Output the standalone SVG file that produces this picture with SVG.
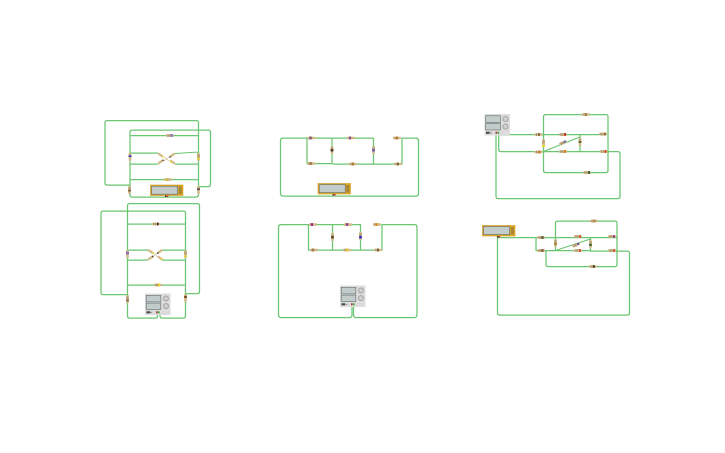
<svg xmlns="http://www.w3.org/2000/svg" width="725" height="453" viewBox="0 0 725 453">
<style>
.w{fill:none;stroke:#6bc672;stroke-width:1.25;stroke-linejoin:round}
.b{fill:#d4bb8c}
.bd{fill:#9c8058}
.lcdg{fill:#e2a81e;stroke:#d49a22;stroke-width:.6}
.scr{fill:#c3cccb;stroke:#5d6b6b;stroke-width:.6}
.pan{fill:#dcdcdc}
.kn{fill:#cfcfcf;stroke:#8f8f8f;stroke-width:.7}
</style>
<defs>
<g id="res"><rect class="b" x="-4" y="-1.3" width="8" height="2.600" rx=".8"/><rect class="bd" x="-2.400" y="-1.300" width=".8" height="2.600"/><rect class="bd" x="-.6" y="-1.300" width=".8" height="2.600"/></g>
<g id="dres"><rect class="b" x="-3" y="-1.100" width="6" height="2.200" rx=".8"/></g>
<g id="lcd"><rect class="lcdg" x="0" y="0" width="32.500" height="10.500"/><rect class="scr" x="1.200" y="1.200" width="26" height="8"/><rect x="28.200" y="1.500" width="3.200" height="7.500" fill="#a8873a"/><rect x="14.500" y="10.600" width="1.600" height="1.400" fill="#222"/><rect x="16.200" y="10.600" width="1.600" height="1.400" fill="#d22"/></g>
<g id="psu"><rect class="pan" x="0" y="0" width="25.500" height="21.500"/><rect class="scr" x="1.200" y="1.800" width="14.600" height="6.600"/><rect class="scr" x="1.200" y="9.600" width="14.600" height="6.400"/><circle class="kn" cx="21" cy="5" r="2.600"/><circle class="kn" cx="21" cy="12.600" r="2.600"/><rect x="1.500" y="17.800" width="3.600" height="2" fill="#444"/><rect x="5.500" y="18.400" width="1.600" height="1" fill="#777"/><rect x="11" y="17.800" width="1.600" height="2" fill="#a33"/><rect x="13" y="17.800" width="1.600" height="2" fill="#3a3"/></g>
</defs>
<rect width="725" height="453" fill="#fff"/>
<g id="connectors">
<path class="w" d="M130 185H107Q105 185 105 183V122.500Q105 120.500 107 120.500H196.500Q198.500 120.500 198.500 122.500V135.500"/>
<path class="w" d="M198.500 186.500H208.500Q210.500 186.500 210.500 184.500V132Q210.500 130 208.500 130H132Q130 130 130 132V135.500"/>
<path class="w" d="M130 135.500H198.500V152L175 153.500M158 164H130M130 135.500V153H158M175 164H198.500V152M130 153V164M130 179.500H198.500M130 164V195Q130 197 132 197H196Q198.500 197 198.500 195V164"/>

<path class="w" d="M127.500 294.500H103Q101 294.500 101 292.500V213Q101 211 103 211H183.500Q185.500 211 185.500 213V224"/>
<path class="w" d="M185.500 293.500H197.500Q199.500 293.500 199.500 291.500V205.500Q199.500 203.500 197.500 203.500H129.500Q127.500 203.500 127.500 205.500V224"/>
<path class="w" d="M127.500 224H185.500V250H162M148 260H127.500V224M127.500 250H148M162 260H185.500V250M185.500 260V285M127.500 260V316Q127.500 318 129.500 318H155.500Q157.500 318 157.500 316V312M127.500 285H185.500V316Q185.500 318 183.500 318H162Q160 318 160 316V312"/>

<path class="w" d="M307 138H283Q280.500 138 280.500 140.500V193.500Q280.500 196 283 196H416Q418.500 196 418.500 193.500V140.500Q418.500 138 416 138H402V164H373.500V138H307V163.500H332V138M332 138V163.500L334 164H373.500"/>

<path class="w" d="M308.500 224.500H281Q278.500 224.500 278.500 227V315Q278.500 317.500 281 317.500H349.500Q352 317.500 352 315V306"/>
<path class="w" d="M353.500 306V315Q353.500 317.500 356 317.500H414.500Q417 317.500 417 315V227Q417 224.500 414.500 224.500H382V250H360.500V224.500H308.500V250H332.500V224.500M332.500 250H360.500"/>

<path class="w" d="M498 134.500H580V151.500H500.700Q498.700 151.500 498.700 149.500V135M543.500 134.500V116.500Q543.500 114.500 545.500 114.500H606Q608 114.500 608 116.500V170.500Q608 172.500 606 172.500H545.500Q543.500 172.500 543.500 170.500V134.500M580 134.500H606M543.500 151.500L580 137M496 135V196.500Q496 198.500 498 198.500H618Q620 198.500 620 196.500V153.500Q620 151.500 618 151.500H580"/>

<path class="w" d="M498 236V237.500H617M536 237.500V250.500H590.500V237.500M555.500 237.500V223Q555.500 221 557.500 221H615Q617 221 617 223V264.500Q617 266.500 615 266.500H548Q546 266.500 546 264.500V250.500M555.500 237.500V250.500L590.500 239M497.500 236V313Q497.500 315 499.500 315H627.500Q629.500 315 629.500 313V253Q629.500 251 627.500 251H590"/>
</g>

<g id="circuit-1">
<g id="c1-r1"><use href="#res" x="170" y="135.500"/><rect x="170.500" y="134.200" width="2.500" height="2.600" fill="#8a78b8"/></g>
<g id="c1-r2"><use href="#res" transform="translate(130 157) rotate(90)"/><rect x="128.700" y="155.500" width="2.600" height="1.500" fill="#2f2fd0"/></g>
<g id="c1-r3"><use href="#res" transform="translate(198.500 157) rotate(90)"/><rect x="197.200" y="158" width="2.600" height="1.500" fill="#e8d820"/></g>
<g id="c1-r4"><use href="#res" x="168" y="179.500"/><rect x="165.500" y="178.200" width="1.800" height="2.600" fill="#e0d040"/></g>
<g id="c1-r5"><use href="#res" transform="translate(129.500 190) rotate(90)"/><rect x="128.200" y="190" width="2.600" height="1.500" fill="#7a5a3a"/></g>
<g id="c1-r6"><use href="#res" transform="translate(198.500 190) rotate(90)"/><rect x="197.200" y="188.500" width="2.600" height="1.500" fill="#444"/></g>
<g id="c1-r7"><use href="#dres" transform="translate(160.500 155) rotate(35)"/><circle cx="163" cy="156.800" r=".9" fill="#e8d820"/></g>
<g id="c1-r8"><use href="#dres" transform="translate(172.500 155) rotate(-35)"/><circle cx="170" cy="156.800" r=".9" fill="#5b4a38"/></g>
<g id="c1-r9"><use href="#dres" transform="translate(160.500 162) rotate(-35)"/><circle cx="163" cy="160.300" r=".9" fill="#5b4a38"/></g>
<g id="c1-r10"><use href="#dres" transform="translate(172.500 162) rotate(35)"/><circle cx="171" cy="162" r=".9" fill="#e8d820"/></g>
<path d="M164 157L169 161M169 157L164 161" fill="none" stroke="#c9b98e" stroke-width=".8"/>
<g id="c1-lcd"><use href="#lcd" x="150.500" y="185"/></g>
</g>

<g id="circuit-2">
<g id="c2-r1"><use href="#res" x="156" y="224"/><rect x="157" y="222.700" width="1.600" height="2.600" fill="#223"/></g>
<g id="c2-r2"><use href="#res" transform="translate(127.500 254) rotate(90)"/><rect x="126" y="252" width="3" height="2.200" fill="#8a6cc0"/></g>
<g id="c2-r3"><use href="#res" transform="translate(185.500 254) rotate(90)"/><rect x="184.200" y="255.500" width="2.600" height="1.600" fill="#e8d820"/></g>
<g id="c2-r4"><use href="#res" x="158" y="285"/><rect x="158" y="283.700" width="1.800" height="2.600" fill="#e8d820"/></g>
<g id="c2-r5"><use href="#res" transform="translate(127.500 299) rotate(90)"/><rect x="126.200" y="299.500" width="2.600" height="2" fill="#8a6a4a"/></g>
<g id="c2-r6"><use href="#res" transform="translate(185.500 298) rotate(90)"/><rect x="184.200" y="296" width="2.600" height="2" fill="#7a4a22"/></g>
<g id="c2-r7"><use href="#dres" transform="translate(150.500 251.500) rotate(35)"/><circle cx="152.800" cy="253" r=".9" fill="#e8d820"/></g>
<g id="c2-r8"><use href="#dres" transform="translate(160 251.500) rotate(-35)"/><circle cx="157.800" cy="253" r=".9" fill="#5b4a38"/></g>
<g id="c2-r9"><use href="#dres" transform="translate(150.500 258) rotate(-35)"/><circle cx="152.800" cy="256.500" r=".9" fill="#5b4a38"/></g>
<g id="c2-r10"><use href="#dres" transform="translate(160 258) rotate(35)"/><circle cx="161.500" cy="259" r=".9" fill="#e8d820"/></g>
<path d="M153 252.500L157.500 256.500M157.500 252.500L153 256.500" fill="none" stroke="#c9b98e" stroke-width=".8"/>
<g id="c2-psu"><use href="#psu" x="145" y="293.500"/></g>
</g>

<g id="circuit-3">
<g id="c3-r1"><use href="#res" x="311.500" y="138"/><rect x="309.500" y="136.700" width="2" height="2.600" fill="#8a4a8a"/></g>
<g id="c3-r2"><use href="#res" x="351" y="138"/><rect x="349" y="136.700" width="2" height="2.600" fill="#8a4a9a"/></g>
<g id="c3-r3"><use href="#res" x="397" y="138"/><rect x="396" y="136.700" width="2" height="2.600" fill="#c0702a"/></g>
<g id="c3-r4"><use href="#res" x="311" y="163.500"/><rect x="309.500" y="162.200" width="2.400" height="2.600" fill="#a57a4a"/></g>
<g id="c3-r5"><use href="#res" x="353" y="164"/><rect x="352" y="162.700" width="2" height="2.600" fill="#a08030"/></g>
<g id="c3-r6"><use href="#res" x="398" y="164"/><rect x="397" y="162.700" width="2" height="2.600" fill="#7a6a3a"/></g>
<g id="c3-r7"><use href="#res" transform="translate(332 150) rotate(90)"/><rect x="330.700" y="149" width="2.600" height="2.500" fill="#4a3a2a"/></g>
<g id="c3-r8"><use href="#res" transform="translate(373.500 150) rotate(90)"/><rect x="372.200" y="149" width="2.600" height="2.500" fill="#6a5aa0"/></g>
<g id="c3-lcd"><use href="#lcd" x="318" y="183.500"/></g>
</g>

<g id="circuit-4">
<g id="c4-r1"><use href="#res" x="313" y="224.500"/><rect x="311" y="223.200" width="2" height="2.600" fill="#a0208a"/></g>
<g id="c4-r2"><use href="#res" x="348" y="224.500"/><rect x="346" y="223.200" width="2.200" height="2.600" fill="#a03a8a"/></g>
<g id="c4-r3"><use href="#res" x="377" y="224.500"/><rect x="375.500" y="223.200" width="2" height="2.600" fill="#e08a10"/></g>
<g id="c4-r4"><use href="#res" x="314" y="250"/><rect x="312" y="248.700" width="2" height="2.600" fill="#a57a4a"/></g>
<g id="c4-r5"><use href="#res" x="347" y="250"/><rect x="346" y="248.700" width="2" height="2.600" fill="#e8d020"/></g>
<g id="c4-r6"><use href="#res" x="378" y="250"/><rect x="377" y="248.700" width="2" height="2.600" fill="#7a5a3a"/></g>
<g id="c4-r7"><use href="#res" transform="translate(332.500 237) rotate(90)"/><rect x="331.200" y="236" width="2.600" height="2.500" fill="#5a4a2a"/></g>
<g id="c4-r8"><use href="#res" transform="translate(360.500 236) rotate(90)"/><rect x="359.200" y="236" width="2.600" height="2.500" fill="#2a2ad0"/></g>
<g id="c4-psu"><use href="#psu" x="340" y="285.500"/></g>
</g>

<g id="circuit-5">
<g id="c5-r1"><use href="#res" x="538.500" y="134.500"/><rect x="538" y="133.200" width="2" height="2.600" fill="#8a6a3a"/></g>
<g id="c5-r2"><use href="#res" x="538.500" y="152"/><rect x="538.500" y="150.700" width="2" height="2.600" fill="#c07a20"/></g>
<g id="c5-r3"><use href="#res" x="563" y="134.500"/><rect x="564" y="133.200" width="2" height="2.600" fill="#c03020"/></g>
<g id="c5-r4"><use href="#res" x="563" y="151.500"/><rect x="564" y="150.200" width="2" height="2.600" fill="#e07a10"/></g>
<g id="c5-r5"><use href="#res" x="603" y="134"/><rect x="604" y="132.700" width="2" height="2.600" fill="#a06a3a"/></g>
<g id="c5-r6"><use href="#res" x="603.500" y="151.500"/><rect x="604.500" y="150.200" width="2" height="2.600" fill="#d04020"/></g>
<g id="c5-r7"><use href="#res" x="586" y="114.500"/><rect x="585" y="113.200" width="2" height="2.600" fill="#a07a3a"/></g>
<g id="c5-r8"><use href="#res" x="587" y="172.500"/><rect x="588" y="171.200" width="2" height="2.600" fill="#2a5a2a"/></g>
<g id="c5-r9"><use href="#res" transform="translate(543.500 143) rotate(90)"/><rect x="542.200" y="145" width="2.600" height="2" fill="#e8d820"/></g>
<g id="c5-r10"><use href="#res" transform="translate(580 142) rotate(90)"/><rect x="578.700" y="141" width="2.600" height="2" fill="#5a6a3a"/></g>
<g id="c5-r11"><use href="#res" transform="translate(563 142.800) rotate(-22)"/><circle cx="564.700" cy="141.700" r="1.100" fill="#5a50b0"/></g>
<g id="c5-psu"><use href="#psu" x="484.500" y="114"/></g>
</g>

<g id="circuit-6">
<g id="c6-r1"><use href="#res" x="541" y="237.500"/><rect x="541.500" y="236.200" width="2" height="2.600" fill="#4a4a2a"/></g>
<g id="c6-r2"><use href="#res" x="541" y="250.500"/><rect x="541.500" y="249.200" width="2" height="2.600" fill="#7a4a2a"/></g>
<g id="c6-r3"><use href="#res" x="578" y="236.500"/><rect x="579" y="235.200" width="2" height="2.600" fill="#d05030"/></g>
<g id="c6-r4"><use href="#res" x="578" y="250.500"/><rect x="579" y="249.200" width="2" height="2.600" fill="#d05030"/></g>
<g id="c6-r5"><use href="#res" x="612" y="236.500"/><rect x="613" y="235.200" width="2" height="2.600" fill="#a03a8a"/></g>
<g id="c6-r6"><use href="#res" x="612" y="250.500"/><rect x="613" y="249.200" width="2" height="2.600" fill="#d05030"/></g>
<g id="c6-r7"><use href="#res" x="594" y="221"/><rect x="593.500" y="219.700" width="2" height="2.600" fill="#b08a4a"/></g>
<g id="c6-r8"><use href="#res" x="593" y="266.500"/><rect x="593" y="265.200" width="2" height="2.600" fill="#4a4a2a"/></g>
<g id="c6-r9"><use href="#res" transform="translate(555.500 243) rotate(90)"/><rect x="554.200" y="243" width="2.600" height="2" fill="#a08030"/></g>
<g id="c6-r10"><use href="#res" transform="translate(590.500 244) rotate(90)"/><rect x="589.200" y="244" width="2.600" height="2" fill="#3a6a3a"/></g>
<g id="c6-r11"><use href="#res" transform="translate(576 245) rotate(-22)"/><circle cx="578" cy="243.800" r="1.100" fill="#4a40b0"/></g>
<g id="c6-lcd"><use href="#lcd" x="482.500" y="225.500"/></g>
</g>
</svg>
